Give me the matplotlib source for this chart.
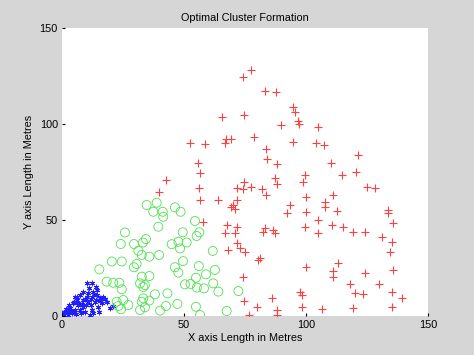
import numpy as np
import matplotlib.pyplot as plt

# cluster 1 (blue, near origin)
blue_x = [10.4, 12.2, 13.9, 12.8, 8.7, 7.4, 10.1, 12.2, 14.2, 15.6, 16.9, 18.3, 16.3, 13.5,
          10.8, 8.7, 6.0, 4.6, 6.7, 3.3, 5.3, 1.2, 0.2, 7.4, 4.0, 2.6, 12.2, 11.5, 12.8, 14.9,
          21.0, 19.7, 8.7, 5.3, 14.2, 9.4, 1.9,
          11.0, 13.0, 9.5, 6.5, 3.8, 2.2, 0.8, 15.5, 17.5, 11.8, 9.8, 7.8, 5.8, 4.8, 3.0,
          1.5, 13.8, 15.0, 10.5, 8.0, 17.8, 6.2, 2.9, 12.0]
blue_y = [17.3, 17.0, 15.3, 12.7, 12.7, 10.9, 10.1, 10.1, 10.9, 9.2, 10.1, 7.4, 6.6, 7.4,
          7.4, 8.3, 8.3, 6.6, 5.7, 4.0, 3.1, 2.2, 1.4, 3.1, 1.4, 0.5, 3.1, 0.5, 1.4, 4.8,
          5.2, 4.0, 4.8, 10.1, 13.5, 2.2, 1.4,
          14.5, 11.5, 9.0, 7.0, 2.5, 3.2, 0.4, 8.0, 8.8, 5.8, 5.5, 1.8, 1.0, 7.5, 5.8,
          3.5, 8.5, 2.2, 12.0, 6.0, 9.0, 10.0, 2.0, 9.0]

# cluster 2 (green circles)
green_x = [34.7, 38.8, 37.4, 41.3, 41.5, 46.3, 48.6, 54.5, 56.3, 55.2, 39.5, 25.8, 49.5, 34.4,
           33.2, 29.5, 24.1, 31.3, 47.7, 51.1, 45.0, 48.4, 39.8, 35.8, 32.7, 61.8, 20.4, 24.5,
           49.6, 30.6, 29.5, 15.3, 46.3, 47.7, 56.1, 35.8, 32.7, 18.3, 21.0, 23.5, 24.5, 32.0,
           34.0, 33.3, 55.3, 52.7, 50.4, 38.1, 33.3, 32.7, 43.2, 47.3, 42.6, 40.2, 25.1, 22.4,
           27.2, 23.1, 35.8, 32.0, 24.2, 34.0, 54.9, 62.7, 59.0, 62.0, 58.2, 64.1, 72.3, 54.9,
           56.6, 67.5]
green_y = [57.8, 59.0, 54.3, 54.3, 51.7, 56.6, 54.3, 49.5, 43.6, 41.7, 46.5, 43.5, 43.6, 40.1,
           38.3, 37.5, 37.5, 34.0, 38.7, 38.3, 37.4, 35.2, 31.8, 30.9, 31.8, 33.9, 28.4, 28.4,
           28.6, 27.1, 25.4, 24.3, 25.4, 22.6, 26.0, 20.8, 20.5, 17.9, 17.3, 17.3, 13.9, 17.0,
           16.1, 15.1, 14.8, 16.7, 16.5, 11.3, 9.2, 7.4, 11.8, 6.3, 5.2, 2.8, 8.3, 7.4,
           5.7, 5.2, 8.0, 3.1, 3.5, 4.5, 19.9, 24.0, 21.7, 17.0, 14.4, 12.7, 13.0, 4.8,
           0.5, 2.6]

# cluster 3 (red plus)
red_x = [77.5, 74.0, 83.2, 87.7, 94.7, 95.5, 96.7, 97.3, 105.0, 89.6, 65.5, 74.6, 52.5, 58.8,
         67.2, 69.3, 66.8, 78.9, 94.7, 104.1, 107.4, 83.6, 121.4, 55.9, 56.7, 84.0, 88.1, 110.1,
         114.6, 120.5, 99.6, 98.8, 87.3, 88.1, 74.6, 71.6, 74.3, 77.3, 81.8, 83.6, 56.1, 56.6,
         64.1, 71.6, 70.1, 70.9, 69.3, 100.0, 93.4, 92.1, 107.8, 111.2, 107.8, 112.6, 100.0,
         125.0, 128.5, 133.7, 133.7, 135.5, 57.9, 67.6, 71.9, 66.8, 70.9, 83.2, 82.5, 86.6,
         87.3, 99.6, 105.0, 105.0, 110.5, 115.0, 119.1, 124.2, 131.0, 135.1, 134.4, 71.6, 68.2,
         73.0, 75.0, 81.1, 80.5, 113.2, 111.2, 110.9, 124.2, 135.8, 100.0, 74.3, 118.0, 120.1,
         123.2, 130.0, 135.1, 139.2, 135.1, 97.5, 98.2, 85.9, 74.6, 79.8, 88.0, 88.2, 76.8,
         98.2, 106.4, 119.4, 42.6, 39.9]
red_y = [128.1, 124.6, 117.4, 116.5, 109.1, 106.4, 101.8, 100.0, 98.7, 99.5, 103.6, 104.7, 90.3, 89.6,
         92.0, 92.0, 89.9, 93.2, 90.8, 89.9, 89.3, 86.9, 83.9, 79.5, 74.3, 82.0, 79.2, 79.8,
         73.4, 75.2, 73.4, 69.8, 71.7, 68.8, 69.8, 66.5, 66.0, 67.2, 66.4, 63.0, 66.7, 60.4,
         60.4, 60.4, 57.8, 55.7, 56.6, 62.1, 57.8, 53.5, 59.5, 63.0, 56.9, 54.7, 54.3,
         67.0, 66.5, 55.2, 53.5, 48.3, 49.1, 47.4, 46.5, 43.1, 43.1, 45.7, 43.9, 44.8,
         43.1, 46.5, 50.0, 43.4, 47.4, 46.5, 43.9, 43.9, 41.3, 38.7, 33.5, 37.9, 34.4,
         35.3, 33.5, 30.1, 29.2, 27.4, 23.6, 20.2, 22.6, 24.0, 25.7, 20.5, 16.7, 12.1,
         11.5, 16.7, 12.7, 9.2, 4.8, 12.7, 10.9, 9.2, 8.0, 4.8, 3.1, 0.5, 0.5,
         4.5, 3.5, 4.0, 70.8, 64.7]

x_ticks = [0, 50, 100, 150]
y_ticks = [0, 50, 100, 150]

plt.rcParams['font.family'] = ['Liberation Sans', 'DejaVu Sans']
fig = plt.figure(figsize=(4.74, 3.55), dpi=100, facecolor='#d6d6d6')
ax = fig.add_axes([0.1308, 0.1099, 0.772, 0.811])
ax.set_facecolor('white')

ax.scatter(blue_x, blue_y, marker=(6, 2, 0), s=12, linewidths=0.7, c='#2020ff')
ax.scatter(green_x, green_y, marker='o', s=42, facecolors='none',
           edgecolors='#50e050', linewidths=0.6)
ax.scatter(red_x, red_y, marker='+', s=36, linewidths=0.8, c='#ff4040')

ax.set_xlim(0, 150)
ax.set_ylim(0, 150)
ax.set_xticks(x_ticks)
ax.set_yticks(y_ticks)
for s in ax.spines.values():
    s.set_visible(False)
ax.tick_params(direction='in', length=2.5, width=0.8, labelsize=7.8, pad=3)

ax.set_title('Optimal Cluster Formation', fontsize=7.8, pad=5)
ax.set_xlabel('X axis Length in Metres', fontsize=7.8, labelpad=2)
ax.set_ylabel('Y axis Length in Metres', fontsize=7.8, labelpad=4)

fig.savefig('out.png', dpi=100, facecolor=fig.get_facecolor())
